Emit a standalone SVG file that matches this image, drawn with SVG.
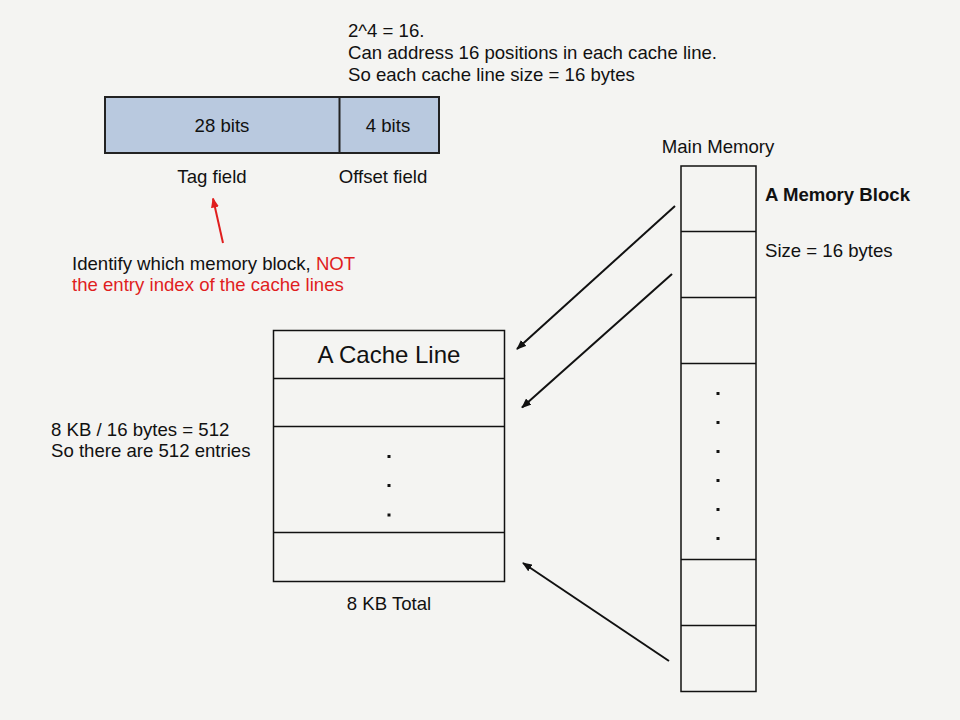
<svg xmlns="http://www.w3.org/2000/svg" width="960" height="720" viewBox="0 0 960 720">
<style>
text{font-family:"Liberation Sans",Arial,sans-serif;font-size:18.6px;fill:#111}
.c{text-anchor:middle}
.red{fill:#e01e1e}
.box{fill:none;stroke:#111;stroke-width:1.5}
.ln{stroke:#111;stroke-width:1.5}
.arr{stroke:#111;stroke-width:2;fill:none;marker-end:url(#ah)}
.dot{fill:#111}
</style>
<defs>
<marker id="ah" viewBox="0 0 10 10" refX="9" refY="5" markerWidth="10" markerHeight="8" markerUnits="userSpaceOnUse" orient="auto" preserveAspectRatio="none">
<path d="M0,0 L10,5 L0,10 z" fill="#111"/>
</marker>
<marker id="ahr" viewBox="0 0 10 10" refX="9" refY="5" markerWidth="10" markerHeight="8" markerUnits="userSpaceOnUse" orient="auto" preserveAspectRatio="none">
<path d="M0,0 L10,5 L0,10 z" fill="#e01e1e"/>
</marker>
</defs>
<rect width="960" height="720" fill="#f4f4f2"/>

<g id="address-fields">
<rect x="105" y="97" width="334" height="56" fill="#b9c9df" stroke="#222" stroke-width="2"/>
<line x1="339.5" y1="97" x2="339.5" y2="153" stroke="#222" stroke-width="2"/>
<text class="c" x="222" y="132">28 bits</text>
<text class="c" x="388" y="132">4 bits</text>
<text class="c" x="212" y="183">Tag field</text>
<text class="c" x="383" y="183">Offset field</text>
</g>

<g id="offset-note">
<text x="348" y="37">2^4 = 16.</text>
<text x="348" y="59">Can address 16 positions in each cache line.</text>
<text x="348" y="81">So each cache line size = 16 bytes</text>
</g>

<g id="tag-note">
<text x="72" y="270">Identify which memory block, <tspan class="red">NOT</tspan></text>
<text x="72" y="291" class="red">the entry index of the cache lines</text>
</g>

<g id="cache">
<rect class="box" x="273.5" y="330.5" width="231" height="251"/>
<line class="ln" x1="273.5" y1="378.5" x2="504.5" y2="378.5"/>
<line class="ln" x1="273.5" y1="426.5" x2="504.5" y2="426.5"/>
<line class="ln" x1="273.5" y1="532.5" x2="504.5" y2="532.5"/>
<text class="c" x="389" y="363" style="font-size:24px">A Cache Line</text>
<rect class="dot" x="387.5" y="455" width="3" height="3"/>
<rect class="dot" x="387.5" y="484" width="3" height="3"/>
<rect class="dot" x="387.5" y="513.5" width="3" height="3"/>
<text class="c" x="389" y="610">8 KB Total</text>
</g>

<g id="cache-note">
<text x="51" y="436">8 KB / 16 bytes = 512</text>
<text x="51" y="457">So there are 512 entries</text>
</g>

<g id="main-memory">
<text class="c" x="718" y="153">Main Memory</text>
<rect class="box" x="681" y="166" width="75" height="525.5"/>
<line class="ln" x1="681" y1="231.5" x2="756" y2="231.5"/>
<line class="ln" x1="681" y1="297.5" x2="756" y2="297.5"/>
<line class="ln" x1="681" y1="363.5" x2="756" y2="363.5"/>
<line class="ln" x1="681" y1="559.5" x2="756" y2="559.5"/>
<line class="ln" x1="681" y1="625.5" x2="756" y2="625.5"/>
<rect class="dot" x="716.5" y="392" width="3" height="3"/>
<rect class="dot" x="716.5" y="421" width="3" height="3"/>
<rect class="dot" x="716.5" y="450" width="3" height="3"/>
<rect class="dot" x="716.5" y="479" width="3" height="3"/>
<rect class="dot" x="716.5" y="508" width="3" height="3"/>
<rect class="dot" x="716.5" y="537" width="3" height="3"/>
<text x="765" y="201" style="font-weight:bold">A Memory Block</text>
<text x="765" y="257">Size = 16 bytes</text>
</g>

<g id="connectors">
<line class="arr" x1="675" y1="206" x2="517" y2="349"/>
<line class="arr" x1="672" y1="274" x2="522" y2="407.5"/>
<line class="arr" x1="669" y1="661" x2="523" y2="563"/>
<line x1="223" y1="243" x2="213" y2="198.5" stroke="#e01e1e" stroke-width="2" marker-end="url(#ahr)"/>
</g>
</svg>
